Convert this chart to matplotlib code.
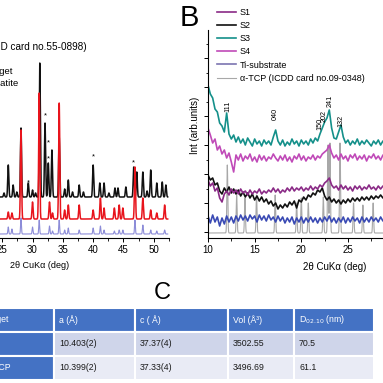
import numpy as np
import matplotlib
matplotlib.use('Agg')
import matplotlib.pyplot as plt
from matplotlib.lines import Line2D

plt.rcParams['font.family'] = ['Liberation Sans', 'DejaVu Sans']

# ---------- panel A data (peak positions in 2theta, heights in arb. units) ----------
a_black_pos = [25.3, 26.0, 26.8, 27.4, 28.1, 29.3, 30.0, 30.5, 31.2, 32.06, 32.6, 33.2, 34.4,
               35.3, 35.9, 36.6, 37.7, 38.4, 40.0, 41.1, 41.8, 42.6, 43.6, 44.1, 45.4,
               46.7, 47.2, 48.2, 48.9, 49.5, 50.5, 51.4, 52.0]
a_black_h = [4, 32, 12, 5, 69, 14, 7, 4, 134, 74, 34, 47, 60,
             8, 17, 5, 12, 5, 32, 14, 14, 4, 9, 9, 10,
             30, 25, 25, 6, 27, 14, 15, 12]
a_red_pos = [26.0, 26.6, 28.1, 30.0, 31.1, 32.8, 33.3, 34.4, 35.3, 35.9, 37.7, 40.0,
             41.2, 41.8, 43.5, 44.3, 44.9, 46.9, 48.2, 49.5, 50.5, 51.8]
a_red_h = [7, 6, 89, 17, 126, 17, 6, 116, 9, 14, 14, 9,
           21, 11, 11, 14, 11, 52, 21, 9, 6, 14]
a_ref_h = [7, 5, 16, 7, 14, 8, 3, 14, 4, 6, 4, 6,
           8, 4, 3, 4, 4, 14, 9, 4, 3, 4]
a_star_x = [29.4, 32.06, 32.7, 32.55, 39.98, 46.6]
a_star_y = [55, 122, 95, 79, 81, 75]

# ---------- panel B data (sampled every 0.25 deg from 10 to 29) ----------
b_x = np.arange(10, 29.01, 0.25)
b_s3 = [153, 144, 140, 129, 126, 115, 112, 106, 125, 104, 99, 103, 96, 101, 95, 99,
        93, 100, 96, 92, 99, 94, 97, 92, 98, 94, 97, 93, 101, 108, 97, 93,
        98, 92, 96, 93, 99, 94, 97, 92, 98, 94, 97, 93, 99, 95, 100, 97,
        104, 110, 116, 120, 128, 110, 100, 99, 106, 113, 101, 95, 98, 93, 97, 94,
        99, 93, 97, 94, 98, 95, 92, 97, 94, 98, 93, 97, 95]
b_s4 = [110, 103, 95, 99, 88, 92, 84, 88, 80, 85, 76, 66, 83, 78, 84, 77,
        82, 79, 84, 77, 81, 76, 83, 78, 82, 77, 81, 79, 84, 80, 77, 82,
        78, 83, 77, 81, 76, 82, 79, 84, 78, 82, 77, 81, 79, 83, 78, 82,
        80, 84, 86, 88, 93, 85, 80, 83, 78, 84, 79, 82, 77, 83, 80, 84,
        78, 82, 79, 83, 77, 82, 80, 84, 79, 82, 78, 83, 80]
b_s1 = [58, 52, 55, 47, 50, 40, 36, 44, 47, 43, 49, 45, 48, 44, 49, 45,
        47, 43, 48, 44, 47, 45, 49, 44, 47, 45, 48, 46, 50, 46, 49, 45,
        48, 46, 50, 47, 51, 47, 50, 48, 51, 47, 50, 48, 52, 48, 51, 49,
        53, 51, 55, 57, 60, 53, 50, 52, 48, 53, 49, 52, 48, 51, 47, 52,
        49, 52, 48, 51, 49, 53, 49, 51, 48, 52, 49, 52, 50]
b_s2 = [63, 58, 60, 53, 55, 47, 44, 50, 46, 51, 45, 49, 44, 48, 42, 46,
        41, 45, 40, 44, 38, 42, 37, 41, 36, 39, 34, 37, 32, 35, 29, 33,
        30, 34, 31, 36, 33, 37, 30, 38, 36, 41, 38, 43, 41, 45, 43, 48,
        46, 50, 42, 38, 41, 36, 39, 35, 38, 34, 38, 35, 39, 36, 40, 37,
        40, 37, 41, 38, 41, 38, 42, 39, 42, 40, 43, 40, 42]
b_ti = [22, 15, 23, 16, 21, 12, 20, 14, 22, 16, 21, 15, 22, 17, 23, 18,
        22, 17, 23, 19, 22, 16, 23, 18, 22, 17, 23, 18, 21, 16, 22, 17,
        21, 15, 20, 16, 21, 14, 20, 16, 21, 15, 20, 16, 21, 16, 20, 15,
        20, 16, 21, 17, 22, 16, 20, 15, 20, 16, 21, 15, 20, 16, 21, 17,
        20, 15, 21, 16, 20, 16, 21, 17, 20, 16, 21, 17, 20]
b_tcp_pos = [12.07, 13.07, 13.96, 15.2, 17.2, 19.5, 20.0, 20.75, 22.36, 22.86, 23.07,
             24.15, 25.6, 26.6, 27.7]
b_tcp_h = [68, 38, 35, 38, 38, 30, 35, 30, 36, 88, 90, 90, 30, 28, 30]
b_hkl = ['111', '040', '150', '202', '241', '132']
b_hkl_x = [12.1, 17.2, 21.95, 22.5, 23.05, 24.2]
b_hkl_y = [126, 118, 108, 116, 131, 111]
b_labels = ['S1', 'S2', 'S3', 'S4', 'Ti-substrate', 'α-TCP (ICDD card no.09-0348)']

# ---------- panel C data ----------
c_header = ['Target', 'a (Å)', 'c ( Å)', 'Vol (Å³)', 'D$_{02.10}$ (nm)']
c_rows = [['S1', '10.403(2)', '37.37(4)', '3502.55', '70.5'],
          ['β-TCP', '10.399(2)', '37.33(4)', '3496.69', '61.1']]

W = H = 383.0


def fr(x0, y0, x1, y1):
    return [x0 / W, 1 - y1 / H, (x1 - x0) / W, (y1 - y0) / H]


def profile(x, pos, h, base, w):
    y = np.full_like(x, base, dtype=float)
    for p, hh in zip(pos, h):
        y += hh * np.exp(-0.5 * ((x - p) / w) ** 2)
    return y


fig = plt.figure(figsize=(3.83, 3.83), dpi=100)

# ---------------- A ----------------
axA = fig.add_axes(fr(-88.7, 30, 168.9, 238))
xa = np.linspace(10, 52.3, 6000)
axA.plot(xa, profile(xa, a_red_pos, a_ref_h, 4, 0.07), color='#8c8cd8', lw=0.8)
axA.plot(xa, profile(xa, a_black_pos, a_black_h, 41, 0.09), color='#111111', lw=1.1)
axA.plot(xa, profile(xa, a_red_pos, a_red_h, 19, 0.09), color='#e8141c', lw=1.1)
for sx, sy in zip(a_star_x, a_star_y):
    axA.text(sx, sy, '*', ha='center', va='center', fontsize=5.5)
axA.set_xlim(10, 52.5)
axA.set_ylim(0, 208)
for s in ['top', 'right', 'left']:
    axA.spines[s].set_visible(False)
axA.spines['bottom'].set_linewidth(0.8)
axA.set_yticks([])
axA.set_xticks([25, 30, 35, 40, 45, 50])
axA.set_xticks(np.arange(22.5, 52.6, 2.5), minor=True)
axA.tick_params(axis='x', labelsize=7, length=3, width=0.7, pad=2)
axA.tick_params(axis='x', which='minor', length=1.8, width=0.6)
fig.text(10 / W, 1 - 266 / H, '2θ CuKα (deg)', ha='left', va='center', fontsize=6.5)
fig.text(87 / W, 1 - 47 / H, 'β-TCP (ICDD card no.55-0898)', ha='right', va='center', fontsize=7.2)
fig.text(13 / W, 1 - 71 / H, 'Target', ha='right', va='center', fontsize=6.8)
fig.text(19 / W, 1 - 83 / H, 'Hydroxyapatite', ha='right', va='center', fontsize=6.8)

# ---------------- B ----------------
axB = fig.add_axes(fr(208, 30, 394.6, 238))
xb = np.linspace(10, 30, 4000)
axB.plot(xb, profile(xb, b_tcp_pos, b_tcp_h, 5, 0.05), color='#a8a8a8', lw=0.8)
axB.plot(b_x, b_ti, color='#3a4ab4', lw=1.2)
axB.plot(b_x, b_s2, color='#111111', lw=1.2)
axB.plot(b_x, b_s1, color='#8a2a86', lw=1.2)
axB.plot(b_x, b_s4, color='#c04ab8', lw=1.2)
axB.plot(b_x, b_s3, color='#14908a', lw=1.2)
for lab, hx, hy in zip(b_hkl, b_hkl_x, b_hkl_y):
    axB.text(hx, hy, lab, rotation=90, ha='center', va='bottom', fontsize=5.2)
axB.set_xlim(10, 30)
axB.set_ylim(0, 208)
axB.spines['top'].set_visible(False)
axB.spines['right'].set_visible(False)
axB.spines['left'].set_linewidth(0.8)
axB.spines['bottom'].set_linewidth(0.8)
axB.set_xticks([10, 15, 20, 25])
axB.set_xticks(np.arange(10, 30.1, 2.5), minor=True)
axB.set_yticks([6, 35, 64, 93, 122, 151, 180])
axB.set_yticks([20.5, 49.5, 78.5, 107.5, 136.5, 165.5, 194.5], minor=True)
axB.set_yticklabels([])
axB.tick_params(axis='both', labelsize=7, length=3, width=0.7, pad=2)
axB.tick_params(axis='both', which='minor', length=1.8, width=0.6)
fig.text(335 / W, 1 - 267 / H, '2θ CuKα (deg)', ha='center', va='center', fontsize=7)
fig.text(195 / W, 1 - 125 / H, 'Int (arb.units)', rotation=90, ha='center', va='center', fontsize=7)
fig.text(189 / W, 1 - 18 / H, 'B', ha='center', va='center', fontsize=21)

handles = [Line2D([], [], color='#8a2a86', lw=1.2),
           Line2D([], [], color='#111111', lw=1.2),
           Line2D([], [], color='#14908a', lw=1.2),
           Line2D([], [], color='#c04ab8', lw=1.2),
           Line2D([], [], color='#7c74b0', lw=1.2),
           Line2D([], [], color='#a8a8a8', lw=0.8)]
fig.legend(handles, b_labels, loc='upper left', bbox_to_anchor=(217 / W, 1 - 8 / H),
           frameon=False, fontsize=6.5, handlelength=2.1, handletextpad=0.4,
           labelspacing=0.46, borderpad=0, borderaxespad=0)

# ---------------- C ----------------
fig.text(162 / W, 1 - 293 / H, 'C', ha='center', va='center', fontsize=17)
axC = fig.add_axes(fr(-20, 308, 374, 380))
axC.axis('off')
colw = np.array([74, 81, 93, 66, 80], dtype=float)
tab = axC.table(cellText=c_rows, colLabels=c_header, cellLoc='left', colLoc='left',
                colWidths=list(colw / colw.sum()), bbox=[0, 0, 1, 1])
tab.auto_set_font_size(False)
tab.set_fontsize(6.3)
row_fill = {0: '#4472c4', 1: '#cfd5ea', 2: '#e9ebf5'}
for (r, c), cell in tab.get_celld().items():
    cell.set_edgecolor('white')
    cell.set_linewidth(1.5)
    cell.PAD = 5.0 / colw[c]
    if r == 0 or c == 0:
        cell.set_facecolor('#4472c4')
        cell.get_text().set_color('white')
    else:
        cell.set_facecolor(row_fill[r])
        cell.get_text().set_color('#1a1a1a')

fig.savefig('out.png', dpi=100)
